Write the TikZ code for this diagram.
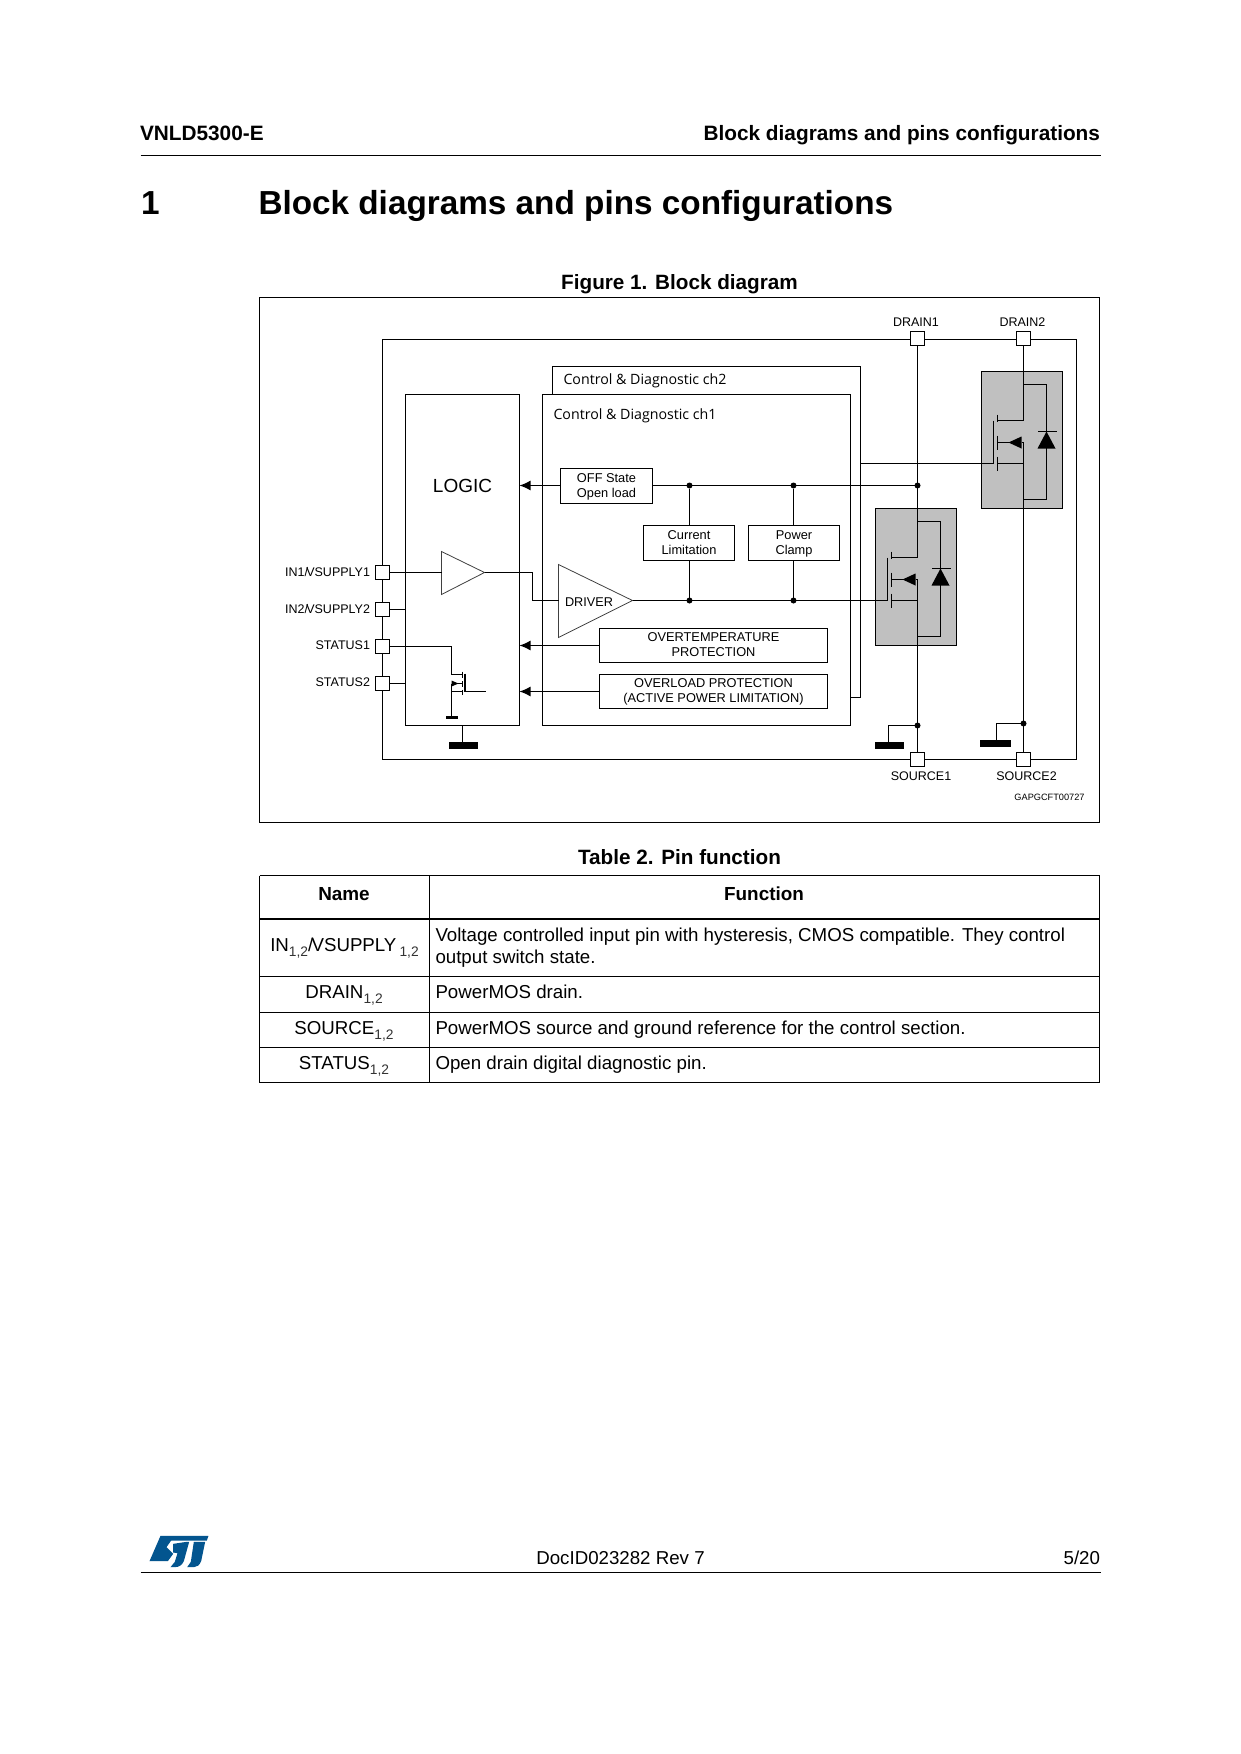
\documentclass[tikz,border=0pt]{standalone}
\usepackage{fontspec}
\setmainfont{Liberation Sans}
\newfontfamily\humanfont{Open Sans}
\usetikzlibrary{arrows.meta}
\definecolor{stblue}{HTML}{03558F}
\definecolor{mosgray}{HTML}{C0C0C0}
\newcommand{\fsz}[1]{\fontsize{#1}{#1}\selectfont}
\newcommand{\fszl}[2]{\fontsize{#1}{#2}\selectfont}
\tikzset{
  wire/.style={line width=1.1pt,black},
  arrowwire/.style={wire,-{Latex[length=11pt,width=10pt]}},
  frameline/.style={line width=1.6pt},
  rowline/.style={line width=1.1pt},
  thickrow/.style={line width=2pt},
  boxnode/.style={draw,line width=1.1pt,inner sep=0pt,outer sep=0pt,fill=none},
  pinbox/.style={draw,line width=1.1pt,fill=white,inner sep=0pt,outer sep=0pt,minimum width=14pt,minimum height=14pt},
  dotnode/.style={circle,fill=black,inner sep=0pt,outer sep=0pt,minimum size=6pt},
  gndbar/.style={fill=black,draw=none},
  txt/.style={inner sep=0pt,outer sep=0pt},
  lab/.style={txt,font=\fsz{12.5}},
  boxtext/.style={txt,align=center,font=\fszl{12.8}{15}},
  cell/.style={txt,font=\fsz{18.7}},
}
\newcommand{\slk}{/\kern-1.8pt}
% name, x1, y1, x2, y2, first line, second line
\newcommand{\pxbox}[7]{%
  \pgfmathsetmacro{\bw}{#4-#2}\pgfmathsetmacro{\bh}{#5-#3}%
  \pgfmathsetmacro{\bx}{(#2+#4)/2}\pgfmathsetmacro{\by}{(#3+#5)/2}%
  \node[boxnode,minimum width=\bw pt,minimum height=\bh pt] (#1) at (\bx,\by) {};
  \node[boxtext,yshift=-0.7pt] (#1t) at (#1.center) {\strut #6\\\strut #7};}
\newcommand{\pxframe}[5]{%
  \pgfmathsetmacro{\bw}{#4-#2}\pgfmathsetmacro{\bh}{#5-#3}%
  \pgfmathsetmacro{\bx}{(#2+#4)/2}\pgfmathsetmacro{\by}{(#3+#5)/2}%
  \node[boxnode,minimum width=\bw pt,minimum height=\bh pt] (#1) at (\bx,\by) {};}
% power MOS drawn at its position, offset dx,dy from DRAIN2's device
\newcommand{\powermos}[3]{%
\begin{scope}[shift={(#2,#3)}]
  \fill[mosgray] (981,371) rectangle (1062,508);
  \draw[wire] (981,371) rectangle (1062,508);
  \coordinate (#1-d) at (1023,420);
  \coordinate (#1-s) at (1023,442);
  \coordinate (#1-g) at (993,463);
  \draw[wire] (1023,384) -- (1046,384) -- (1046,499) -- (1023,499);
  \fill[black] (1046,431) -- (1055,448) -- (1037,448) -- cycle;
  \draw[wire] (1037.5,431) -- (1056,431);
  \draw[wire] (993,420) -- (993,463);
  \draw[wire] (997,414) -- (997,421);
  \draw[wire] (997,435) -- (997,449);
  \draw[wire] (997,456) -- (997,470);
  \draw[wire] (997,420) -- (1023,420);
  \draw[wire] (997,463) -- (1023,463);
  \draw[wire] (997,442) -- (1010,442);
  \fill[black] (1008,442) -- (1021,436) -- (1021,448) -- cycle;
  \draw[wire] (1021,442) -- (1023,442);
\end{scope}}
\begin{document}
\begin{tikzpicture}[x=1pt,y=-1pt]
\useasboundingbox (0,0) rectangle (1240,1754);
\fill[white] (0,0) rectangle (1240,1754);
\begin{scope}[shift={(0.5,0.5)}]
% header
\node[txt,anchor=base west,font=\bfseries\fsz{20.8}] (hl) at (139.5,139.7) {VNLD5300-E};
\node[txt,anchor=base east,font=\bfseries\fsz{20.8}] (hr) at (1099.5,139.7) {Block diagrams and pins configurations};
\draw[line width=1pt] (140,155) -- (1100,155);
\node[txt,anchor=base west,font=\bfseries\fsz{33.3}] (secn) at (140.5,214) {1};
\node[txt,anchor=base west,font=\bfseries\fsz{33.3}] (sect) at (258,214) {Block diagrams and pins configurations};
\node[txt,anchor=base,font=\bfseries\fsz{20.7}] (figc) at (679,288.5) {Figure 1. Block diagram};
% frame
\draw[frameline] (259,297) rectangle (1099,822);
% outer box
\pxframe{outer}{382}{339}{1076}{759}
% ch2, ch1, logic
\draw[wire] (552,394) -- (552,366) -- (860,366) -- (860,697) -- (850,697);
\pxframe{ch}{542}{394}{850}{725}
\pxframe{logic}{405}{394}{519}{725}
\node[txt,anchor=base west,font=\humanfont\fsz{14.2}] (ch2t) at (563,384) {Control \& Diagnostic ch2};
\node[txt,anchor=base west,font=\humanfont\fsz{14.2}] (ch1t) at (553,419) {Control \& Diagnostic ch1};
\node[txt,font=\fsz{19}] (logict) at (462,485) {LOGIC};
% blocks
\pxbox{off}{560}{468}{652}{503}{OFF State}{Open load}
\pxbox{cur}{643}{525}{734}{560}{Current}{Limitation}
\pxbox{pow}{748}{525}{839}{560}{Power}{Clamp}
\pxbox{ot}{599}{628}{827}{662}{OVERTEMPERATURE}{PROTECTION}
\pxbox{ol}{599}{674}{827}{708}{OVERLOAD PROTECTION}{(ACTIVE POWER LIMITATION)}
% buffer and driver
\coordinate (bufin) at (441,572);
\coordinate (bufout) at (484,572);
\draw[line width=.8pt,black!75] (484,572) -- (441,551) -- (441,594) -- cycle;
\coordinate (drvin) at (558,600);
\coordinate (drvout) at (632,600);
\coordinate (bend) at (532,572);
\draw[line width=.8pt,black!75] (632,600) -- (558,564) -- (558,637) -- cycle;
\node[txt,anchor=west,font=\fsz{12.7}] (drvt) at (564.5,602) {DRIVER};
% power devices
\powermos{mb}{0}{0}
\powermos{ma}{-106}{137}
% pins
\node[pinbox] (in1) at (382,572) {};
\node[pinbox] (in2) at (382,609) {};
\node[pinbox] (st1) at (382,646) {};
\node[pinbox] (st2) at (382,683) {};
\node[pinbox] (d1) at (917,338) {};
\node[pinbox] (d2) at (1023,338) {};
\node[pinbox] (s1) at (917,759) {};
\node[pinbox] (s2) at (1023,759) {};
% pin labels
\node[lab,anchor=east] (in1t) at (369.5,572) {IN1\slk VSUPPLY1};
\node[lab,anchor=east] (in2t) at (369.5,609) {IN2\slk VSUPPLY2};
\node[lab,anchor=east] (st1t) at (369.5,645) {STATUS1};
\node[lab,anchor=east] (st2t) at (369.5,682) {STATUS2};
\node[lab] (d1t) at (915.5,321.5) {DRAIN1};
\node[lab] (d2t) at (1022,321.5) {DRAIN2};
\node[lab] (s1t) at (920.5,775.5) {SOURCE1};
\node[lab] (s2t) at (1026,775.5) {SOURCE2};
\node[txt,font=\fsz{9.2}] (code) at (1049,796.5) {GAPGCFT00727};
% dots
\node[dotnode] (j1) at (689,485) {};
\node[dotnode] (j2) at (793,485) {};
\node[dotnode] (j3) at (917,485) {};
\node[dotnode] (j4) at (689,600) {};
\node[dotnode] (j5) at (793,600) {};
\node[dotnode] (j6) at (917,725) {};
\node[dotnode] (j7) at (1023,723) {};
% wires: left pins
\draw[wire] (in1.east) -- (bufin);
\draw[wire] (in2.east) -- (in2.east -| logic.west);
\draw[wire] (st2.east) -- (st2.east -| logic.west);
\draw[wire] (bufout) -- (bend) |- (drvin);
% arrows to logic
\draw[arrowwire] (off.west |- j1) -- (logic.east |- j1);
\draw[arrowwire] (ot.west) -- (ot.west -| logic.east);
\draw[arrowwire] (ol.west) -- (ol.west -| logic.east);
% bus wires
\draw[wire] (off.east |- j1) -- (j3);
\draw[wire] (drvout) -- (ma-g);
\draw[wire] (j1) -- (j1 |- cur.north);
\draw[wire] (j2) -- (j2 |- pow.north);
\draw[wire] (j4) -- (j4 |- cur.south);
\draw[wire] (j5) -- (j5 |- pow.south);
\draw[wire] (860,463) -- (mb-g);
% drain and source wires
\draw[wire] (d1.south) -- (ma-d);
\draw[wire] (ma-s) -- (s1.north);
\draw[wire] (d2.south) -- (mb-d);
\draw[wire] (mb-s) -- (s2.north);
% source grounds
\coordinate (g1) at (888,742);
\coordinate (g2) at (996,740);
\draw[wire] (j6) -| (g1);
\draw[wire] (j7) -| (g2);
\fill[gndbar] (874,741.5) rectangle (903,748.5);
\fill[gndbar] (979,739.5) rectangle (1010,746.5);
% logic ground
\coordinate (g3) at (462,742);
\draw[wire] (g3 |- logic.south) -- (g3);
\fill[gndbar] (448,741.5) rectangle (477,748.5);
% status mosfet
\coordinate (mg) at (485,691);
\coordinate (mb1) at (451,683);
\coordinate (mg0) at (451,715);
\draw[wire] (st1.east) -- (451,646) -- (451,674) -- (462,674);
\draw[wire] (462,671) -- (462,677);
\draw[wire] (462,680.5) -- (462,686);
\draw[wire] (462,689) -- (462,694);
\draw[wire] (464.5,673) -- (464.5,691) -- (mg);
\draw[wire] (mb1) -- (462,683);
\fill[black] (458,683) -- (451,680) -- (451,686) -- cycle;
\draw[wire] (451,691) -- (462,691);
\draw[wire] (mb1) -- (mg0);
\fill[gndbar] (445,715) rectangle (457,718);
% table
\node[txt,anchor=base,font=\bfseries\fsz{20.7}] (tabc) at (679,864) {Table 2. Pin function};
\draw[rowline] (259,875) -- (1099,875);
\draw[thickrow] (259,918) -- (1099,918);
\draw[rowline] (259,976) -- (1099,976);
\draw[line width=1.4pt] (259,1012) -- (1099,1012);
\draw[rowline] (259,1047) -- (1099,1047);
\draw[rowline] (259,1082) -- (1099,1082);
\draw[rowline] (259,875) -- (259,1082);
\draw[line width=1.7pt] (429,875) -- (429,1082);
\draw[rowline] (1099,875) -- (1099,1082);
\newcommand{\subt}{\raisebox{-4.5pt}{\fsz{13.8}\textcolor{black!80}{1,2}}}
\node[txt,anchor=base,font=\bfseries\fsz{18.9}] (hn) at (343.5,900) {Name};
\node[txt,anchor=base,font=\bfseries\fsz{18.9}] (hf) at (763.5,900) {Function};
\node[cell,anchor=base] (c1) at (344,951) {IN\subt\slk VSUPPLY\,\subt};
\node[cell,anchor=base] (c2) at (343.5,998) {DRAIN\subt};
\node[cell,anchor=base] (c3) at (343.5,1034) {SOURCE\subt};
\node[cell,anchor=base] (c4) at (343.5,1069) {STATUS\subt};
\node[cell,anchor=base west] (f1a) at (435,941) {Voltage controlled input pin with hysteresis, CMOS compatible. They control};
\node[cell,anchor=base west] (f1b) at (435,963) {output switch state.};
\node[cell,anchor=base west] (f2) at (435,998) {PowerMOS drain.};
\node[cell,anchor=base west] (f3) at (435,1034) {PowerMOS source and ground reference for the control section.};
\node[cell,anchor=base west] (f4) at (435,1069) {Open drain digital diagnostic pin.};
% footer
\begin{scope}[shift={(130,1520)},x=0.3333pt,y=-0.3333pt]
  \fill[stblue] (90,46) -- (234,46) -- (229,60) -- (122,60) -- (108,80) -- (128,100) -- (112,122) -- (57,122) -- cycle;
  \fill[stblue] (128,70) -- (168,64) -- (176,64) -- (160,122) .. controls (154,135) and (145,140) .. (132,140) -- (120,140) -- (133,124) -- (141,98) -- (128,96) -- cycle;
  \fill[stblue] (190,64) -- (224,64) -- (212,122) .. controls (207,134) and (200,140) .. (190,140) -- (170,140) -- (181,124) -- cycle;
\end{scope}
\node[txt,anchor=base,font=\fsz{18.7}] (doc) at (620,1564) {DocID023282 Rev 7};
\node[txt,anchor=base east,font=\fsz{18.7}] (pg) at (1099.5,1564) {5/20};
\draw[line width=1pt] (140,1572) -- (1100,1572);
\end{scope}
\end{tikzpicture}
\end{document}
